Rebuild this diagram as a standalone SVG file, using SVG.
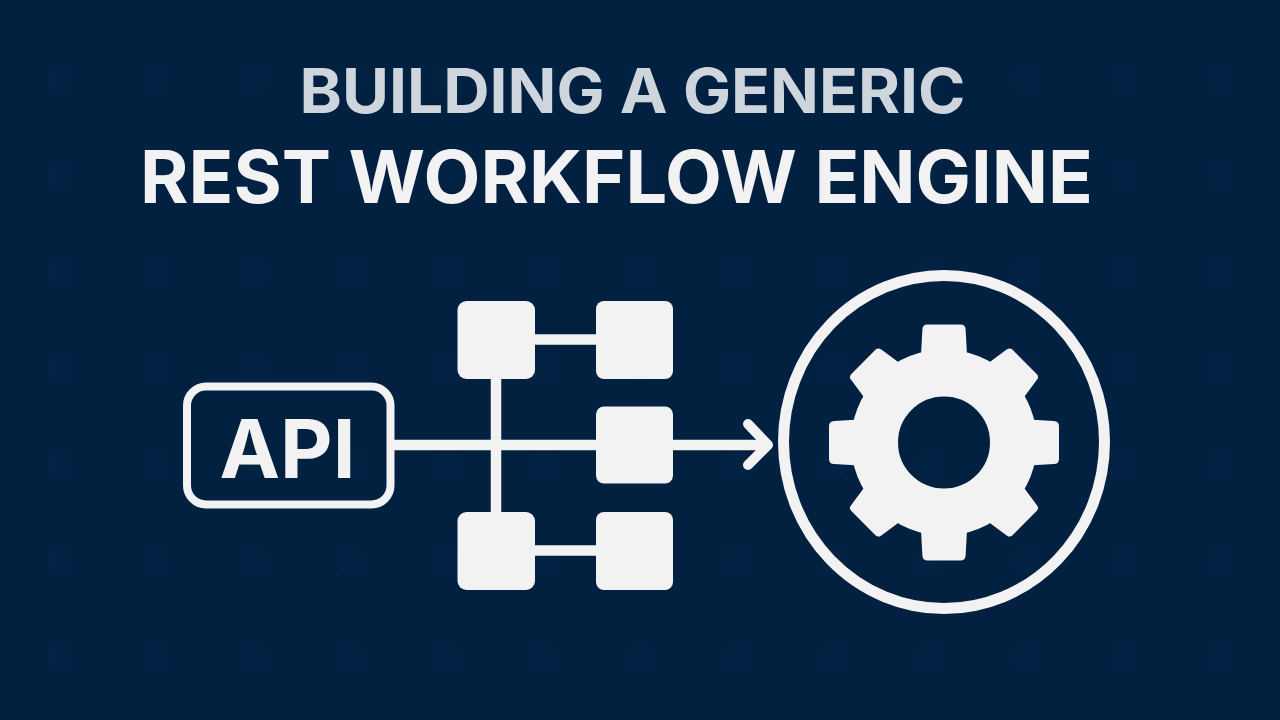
<svg xmlns="http://www.w3.org/2000/svg" width="1280" height="720" viewBox="0 0 1280 720">
  <defs>
    <style>
      .title { font-family: "Inter", "Liberation Sans", sans-serif; font-weight: 700; text-anchor: middle; }
      .fg { fill: #f2f2f2; }
      .line { stroke: #f2f2f2; fill: none; }
      .block { fill: #f2f2f2; }
    </style>
    <pattern id="grid" x="49" y="67" width="96.6" height="96.5" patternUnits="userSpaceOnUse">
      <rect width="23" height="24" rx="1" fill="#04264a" fill-opacity="0.45"/>
    </pattern>
    <path id="tooth" class="block" d="M-23 -88L-21.6 -113Q-21.4 -118 -16.5 -118H16.5Q21.4 -118 21.6 -113L23 -88Z"/>
    <path id="tooth-d" class="block" d="M-25 -86L-21.4 -110Q-21 -114 -17 -114H17Q21 -114 21.4 -110L25 -86Z"/>
  </defs>
  <rect width="1280" height="720" fill="#022141"/>
  <rect width="1280" height="720" fill="url(#grid)"/>
  <g id="title">
    <text class="title" x="632.5" y="113" font-size="62.5" fill="#cfd5dc" textLength="666" lengthAdjust="spacingAndGlyphs">BUILDING A GENERIC</text>
    <text class="title fg" x="616.5" y="203" font-size="73.5" textLength="953" lengthAdjust="spacingAndGlyphs">REST WORKFLOW ENGINE</text>
  </g>
  <g id="connectors">
    <path class="line" stroke-width="10.5" d="M394 445H768"/>
    <path class="line" stroke-width="10.5" d="M496 379V512"/>
    <path class="line" stroke-width="10.5" d="M535 339.5H596"/>
    <path class="line" stroke-width="10.5" d="M535 550.5H596"/>
    <path class="line" stroke-width="10" stroke-linecap="round" stroke-linejoin="round" d="M748 424L768 445L748 465"/>
  </g>
  <g id="node-api">
    <rect class="line" x="187" y="386.5" width="203.5" height="118" rx="19" stroke-width="8"/>
    <text class="title fg" x="287.5" y="478" font-size="81" textLength="136" lengthAdjust="spacingAndGlyphs">API</text>
  </g>
  <g id="node-1"><rect class="block" x="457.5" y="301" width="77.5" height="78" rx="9"/></g>
  <g id="node-2"><rect class="block" x="596" y="301" width="77" height="78" rx="8"/></g>
  <g id="node-3"><rect class="block" x="596" y="406.5" width="77" height="77" rx="8"/></g>
  <g id="node-4"><rect class="block" x="457.5" y="512" width="77.5" height="78" rx="9"/></g>
  <g id="node-5"><rect class="block" x="596" y="512" width="77" height="78" rx="8"/></g>
  <g id="node-engine">
    <ellipse class="line" cx="944" cy="442" rx="160.5" ry="166.5" stroke-width="11"/>
    <g transform="translate(944 442.5)">
      <circle class="line" r="69.5" stroke-width="47"/>
      <use href="#tooth"/>
      <use href="#tooth-d" transform="rotate(45)"/>
      <use href="#tooth" transform="rotate(90) translate(0 3)"/>
      <use href="#tooth-d" transform="rotate(135)"/>
      <use href="#tooth" transform="rotate(180)"/>
      <use href="#tooth-d" transform="rotate(225)"/>
      <use href="#tooth" transform="rotate(270) translate(0 3)"/>
      <use href="#tooth-d" transform="rotate(315)"/>
    </g>
  </g>
</svg>
